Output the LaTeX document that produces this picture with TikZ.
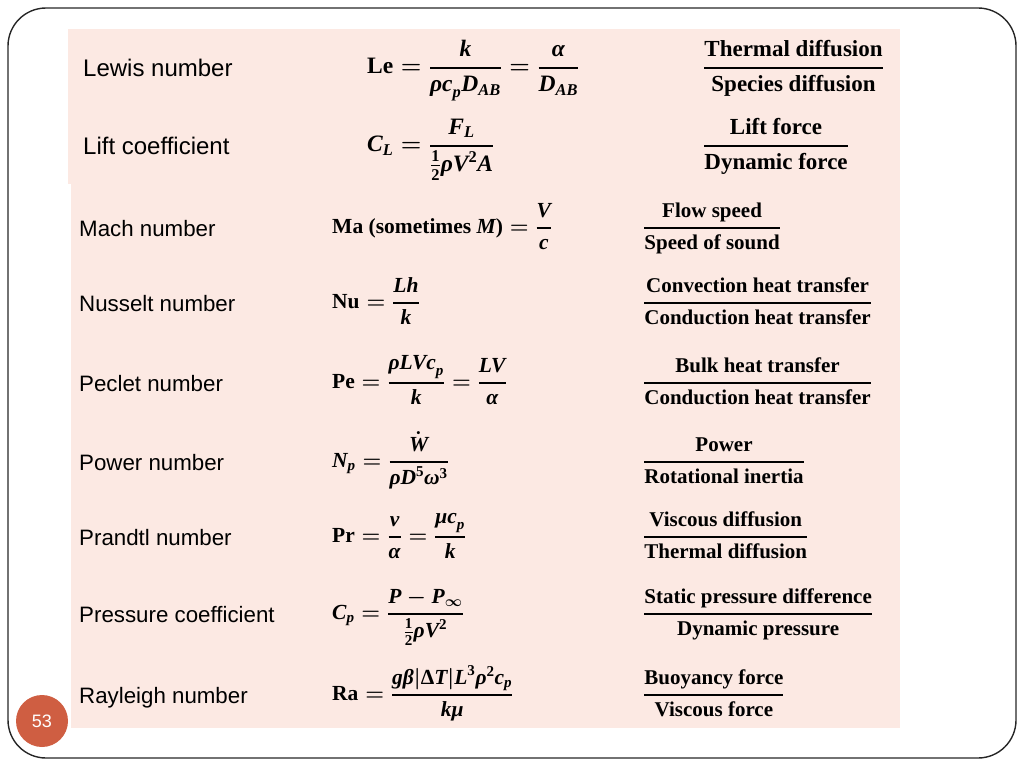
\RequirePackage{fix-cm}
\documentclass[tikz,border=0pt]{standalone}
\usepackage{amsmath}
\usepackage{fontspec}
\setmainfont{Liberation Serif}
\newfontfamily\labelfont{Liberation Sans}
\definecolor{tablepink}{RGB}{252,233,227}
\definecolor{pagenum}{RGB}{207,94,66}
\newcommand\bv[1]{\text{\bfseries\itshape #1}}
\newcommand\bu[1]{\text{\bfseries #1}}
\newcommand\ratio[2]{\genfrac{}{}{1.3pt}{0}{#1}{#2}}
\newcommand\half{\genfrac{}{}{0.7pt}{1}{\bu{1}}{\bu{2}}}

\begin{document}
\begin{tikzpicture}[x=1pt,y=-1pt,
    rowname/.style={anchor=base west,inner sep=0pt,font=\fontsize{#1}{30}\selectfont\labelfont},
    eqn/.style={anchor=base west,inner sep=0pt,font=\fontsize{#1}{30}\selectfont\boldmath}]
\useasboundingbox (0,0) rectangle (1024,768);

% slide frame and table background
\draw[line width=1.4pt,draw=black!85,rounded corners=38pt] (8,8) rectangle (1016,758);
\fill[tablepink] (68,29) rectangle (900,184);
\fill[tablepink] (71,184) rectangle (900,728);

% first two rows, larger type
\node[rowname=24] (lewis) at (83,68+8.7) {Lewis number};
\node[rowname=24] (lift) at (83,146+8.7) {Lift coefficient};
\node[eqn=23.5] (lewis-eq) at (367,68+5.9) {$\bu{Le} = \ratio{\bv{k}}{\bv{ρc}_{\bv{p}}\bv{D}_{\bv{AB}}} = \ratio{\bv{α}}{\bv{D}_{\bv{AB}}}$};
\node[eqn=23.5] (lift-eq) at (367,146+5.9) {$\bv{C}_{\bv{L}} = \ratio{\bv{F}_{\bv{L}}}{\half\bv{ρV}^{\bu{2}}\bv{A}}$};
\node[eqn=23] (lewis-ratio) at (703,68+5.8) {$\ratio{\bu{Thermal diffusion}}{\bu{Species diffusion}}$};
\node[eqn=23] (lift-ratio) at (703,146+5.8) {$\ratio{\bu{Lift force}}{\bu{Dynamic force}}$};

% remaining rows
\foreach \y/\name/\txt/\num/\den in {
    228/mach/Mach number/Flow speed/Speed of sound,
    303/nusselt/Nusselt number/Convection heat transfer/Conduction heat transfer,
    383/peclet/Peclet number/Bulk heat transfer/Conduction heat transfer,
    462/power/Power number/Power/Rotational inertia,
    537/prandtl/Prandtl number/Viscous diffusion/Thermal diffusion,
    614/pressure/Pressure coefficient/Static pressure difference/Dynamic pressure,
    695/rayleigh/Rayleigh number/Buoyancy force/Viscous force} {
    \node[rowname=22.3] (\name) at (79,\y+8.5) {\txt};
    \node[eqn=21] (\name-ratio) at (643,\y+5.3) {$\ratio{\bu{\num}}{\bu{\den}}$};
}

\node[eqn=21.5] (mach-eq) at (332,228+5.4) {$\bu{Ma (sometimes }\bv{M}\bu{)} = \ratio{\bv{V}}{\bv{c}}$};
\node[eqn=21.5] (nusselt-eq) at (332,303+5.4) {$\bu{Nu} = \ratio{\bv{Lh}}{\bv{k}}$};
\node[eqn=21.5] (peclet-eq) at (332,383+5.4) {$\bu{Pe} = \ratio{\bv{ρLVc}_{\bv{p}}}{\bv{k}} = \ratio{\bv{LV}}{\bv{α}}$};
\node[eqn=21.5] (power-eq) at (332,462+5.4) {$\bv{N}_{\bv{p}} = \ratio{\dot{\bv{W}}}{\bv{ρD}^{\bu{5}}\bv{ω}^{\bu{3}}}$};
\node[eqn=21.5] (prandtl-eq) at (332,537+5.4) {$\bu{Pr} = \ratio{\bv{ν}}{\bv{α}} = \ratio{\bv{μc}_{\bv{p}}}{\bv{k}}$};
\node[eqn=21.5] (pressure-eq) at (332,614+5.4) {$\bv{C}_{\bv{p}} = \ratio{\bv{P} - \bv{P}_{\infty}}{\half\bv{ρV}^{\bu{2}}}$};
\node[eqn=21.5] (rayleigh-eq) at (332,695+5.4) {$\bu{Ra} = \ratio{\bv{gβ}|\bu{Δ}\bv{T}|\bv{L}^{\bu{3}}\bv{ρ}^{\bu{2}}\bv{c}_{\bv{p}}}{\bv{kμ}}$};

% slide number
\node[circle,fill=pagenum,minimum size=52pt,inner sep=0pt,text=white,font=\fontsize{18}{20}\selectfont\labelfont] (pageno) at (42,721) {53};
\end{tikzpicture}
\end{document}
